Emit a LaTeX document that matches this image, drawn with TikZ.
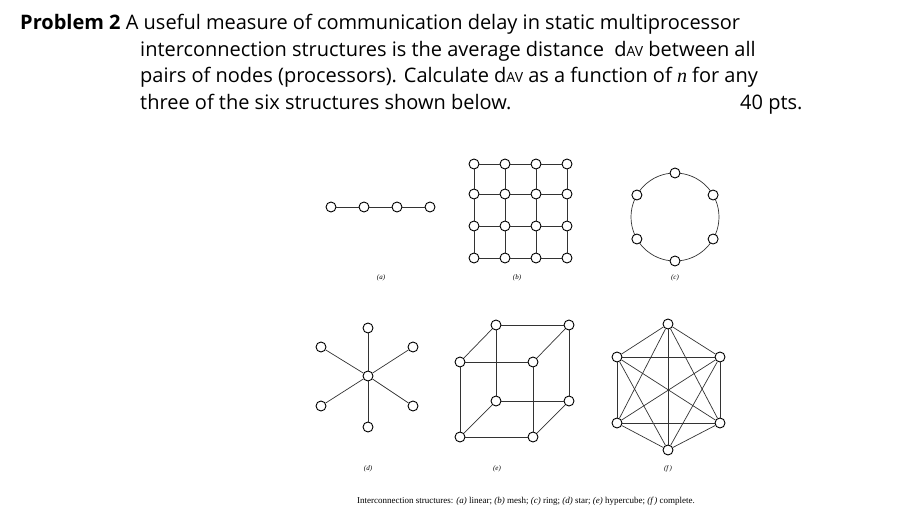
\documentclass[tikz,border=0pt]{standalone}
\usepackage{fontspec}
\usetikzlibrary{calc}
\setmainfont{Liberation Serif}
\newfontfamily\headfont{Open Sans}
\begin{document}
\begin{tikzpicture}[x=1pt,y=-1pt,
  pn/.style={circle,draw,fill=white,line width=0.9pt,minimum size=10pt,inner sep=0pt},
  ln/.style={line width=0.7pt,draw=black!80},
  hd/.style={anchor=base west,inner sep=0pt,font=\headfont\fontsize{20}{24}\selectfont},
  lb/.style={font=\fontsize{7}{8}\selectfont\itshape,inner sep=0pt}]
\useasboundingbox (0,0) rectangle (905,519);
% heading
\node[hd] (h1) at (20,30) {\textbf{Problem 2} A useful measure of communication delay in static multiprocessor};
\node[hd] (h2) at (140,57) {interconnection structures is the average distance\ \ d{\fontsize{14}{14}\selectfont AV} between all};
\node[hd] (h3) at (140,83) {pairs of nodes (processors). Calculate d{\fontsize{14}{14}\selectfont AV} as a function of {\rmfamily\itshape n} for any};
\node[hd] (h4) at (140,110) {three of the six structures shown below.};
\node[hd] (pts) at (740,110) {40 pts.};
% (a) linear
\foreach \i/\x in {1/331,2/364,3/397,4/430} \node[pn] (a\i) at (\x,207) {};
\draw[ln] (a1)--(a2)--(a3)--(a4);
\node[lb] (la) at (381,278) {(a)};
% (b) mesh
\foreach \c/\x in {1/474,2/505,3/536,4/567}
  \foreach \r/\y in {1/164,2/194,3/226,4/258}
    \node[pn] (b\c\r) at (\x,\y) {};
\foreach \c in {1,2,3,4} {
  \draw[ln] (b\c1)--(b\c2)--(b\c3)--(b\c4);
  \draw[ln] (b1\c)--(b2\c)--(b3\c)--(b4\c);}
\node[lb] (lb) at (517,278) {(b)};
% (c) ring
\coordinate (rc) at (675,217);
\draw[ln] (rc) circle[radius=44];
\foreach \i/\a in {1/90,2/30,3/-30,4/-90,5/-150,6/150}
  \node[pn] (c\i) at ($(rc)+(\a:44)$) {};
\node[lb] (lc) at (675,278) {(c)};
% (d) star
\node[pn] (d0) at (368,376) {};
\node[pn] (d1) at (368,328) {};
\node[pn] (d2) at (413,347) {};
\node[pn] (d3) at (413,406) {};
\node[pn] (d4) at (368,427) {};
\node[pn] (d5) at (321,406) {};
\node[pn] (d6) at (321,347) {};
\foreach \i in {1,...,6} \draw[ln] (d0)--(d\i);
\node[lb] (ld) at (368,469) {(d)};
% (e) hypercube
\node[pn] (e1) at (460,362) {};
\node[pn] (e2) at (533,362) {};
\node[pn] (e3) at (533,437) {};
\node[pn] (e4) at (460,437) {};
\node[pn] (e5) at (496,325) {};
\node[pn] (e6) at (569,325) {};
\node[pn] (e7) at (569,401) {};
\node[pn] (e8) at (496,401) {};
\draw[ln] (e1)--(e2)--(e3)--(e4)--(e1);
\draw[ln] (e5)--(e6)--(e7)--(e8)--(e5);
\draw[ln] (e1)--(e5) (e2)--(e6) (e3)--(e7) (e4)--(e8);
\node[lb] (le) at (497,469) {(e)};
% (f) complete
\node[pn] (f1) at (668,324) {};
\node[pn] (f2) at (720,357) {};
\node[pn] (f3) at (720,423) {};
\node[pn] (f4) at (668,450) {};
\node[pn] (f5) at (617,423) {};
\node[pn] (f6) at (617,357) {};
\begin{scope}[on background layer/.style={}]
\foreach \i/\j in {1/2,1/3,1/4,1/5,1/6,2/3,2/4,2/5,2/6,3/4,3/5,3/6,4/5,4/6,5/6}
  \draw[ln] (f\i)--(f\j);
\end{scope}
\node[lb] (lf) at (668,469) {(f\,)};
\node[font=\fontsize{9}{10}\selectfont,inner sep=0pt] (cap) at (526,501) {Interconnection structures: \textit{(a)} linear; \textit{(b)} mesh; \textit{(c)} ring; \textit{(d)} star; \textit{(e)} hypercube; \textit{(f\,)} complete.};
\end{tikzpicture}
\end{document}
